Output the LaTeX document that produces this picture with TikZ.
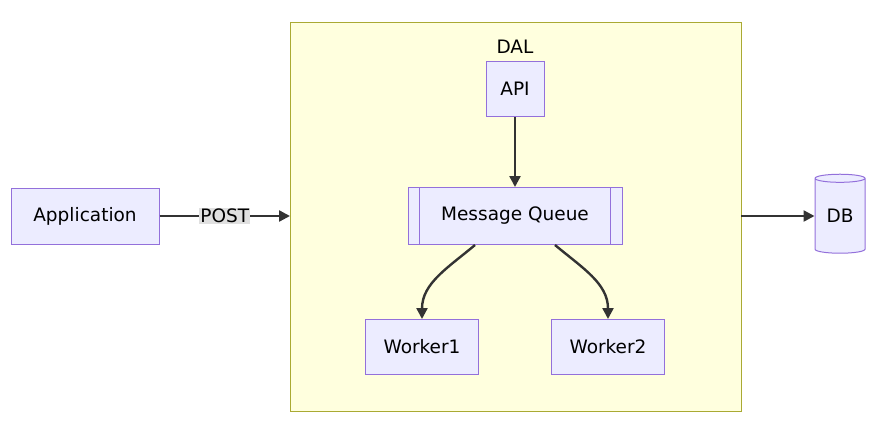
\documentclass[tikz,border=0pt]{standalone}
\usepackage{fontspec}
\setmainfont{DejaVu Sans}
\usetikzlibrary{arrows.meta,positioning,shapes.geometric,calc}
\definecolor{nodefill}{HTML}{ECECFF}
\definecolor{nodeline}{HTML}{9370DB}
\definecolor{groupfill}{HTML}{FFFFDE}
\definecolor{groupline}{HTML}{AAAA33}
\definecolor{edgecol}{HTML}{333333}
\tikzset{
  box/.style = {draw = nodeline, fill = nodefill, line width = 1pt, font = \fontsize{18.5}{22}\selectfont, inner sep = 0pt},
  flow/.style = {draw = edgecol, line width = 2.4pt, -{Triangle[length=11pt,width=11pt]}}
}
\begin{document}
\begin{tikzpicture}[x = 1pt, y = -1pt]
    \useasboundingbox (0,0) rectangle (880,426);
    % the DAL group
    \draw[groupline, fill = groupfill, line width = 1pt] (290,22) rectangle (741,411);
    \node[font = \fontsize{18.5}{22}\selectfont] (dal) at (515,47) {DAL};
    \coordinate (grpW) at (290,216);
    \coordinate (grpE) at (741,216);
    % nodes
    \node[box, minimum width = 58pt, minimum height = 55pt] (api) at (515,89) {API};
    \node[box, minimum width = 214pt, minimum height = 57pt] (mq) at (515,216) {Message Queue};
    \draw[nodeline, line width = 1pt] ($(mq.north west)+(12,0)$) -- ($(mq.south west)+(12,0)$);
    \draw[nodeline, line width = 1pt] ($(mq.north east)+(-12,0)$) -- ($(mq.south east)+(-12,0)$);
    \node[box, minimum width = 113pt, minimum height = 55pt] (w1) at (422,347) {Worker1};
    \node[box, minimum width = 113pt, minimum height = 55pt] (w2) at (608,347) {Worker2};
    \node[box, minimum width = 148pt, minimum height = 56pt] (app) at (85,216) {Application};
    \node[box, cylinder, shape border rotate = 90, aspect = 0.3, minimum width = 50pt, minimum height = 79pt] (db) at (840,216) {DB};
    % edges
    \draw[flow] (api) -- (mq);
    \draw[flow] ($(mq.south)+(-40,0)$) to[out = 220, in = 90] (w1.north);
    \draw[flow] ($(mq.south)+(40,0)$) to[out = -40, in = 90] (w2.north);
    \draw[flow] (app) -- node[fill = black!12, inner sep = 1pt, font = \fontsize{18.5}{22}\selectfont] {POST} (grpW);
    \draw[flow] (grpE) -- (db);
\end{tikzpicture}
\end{document}
